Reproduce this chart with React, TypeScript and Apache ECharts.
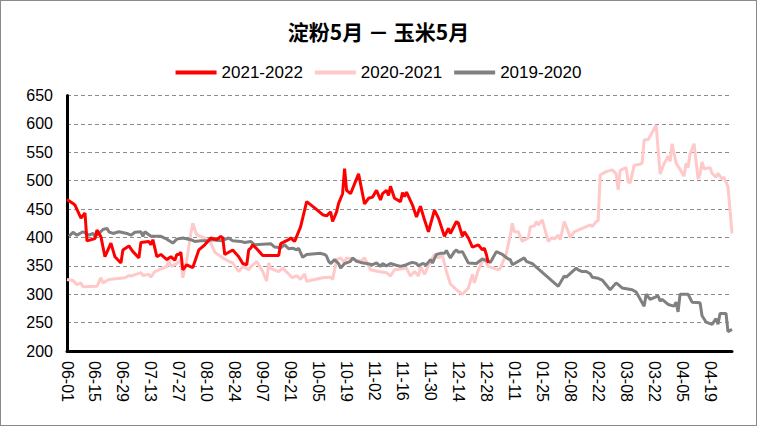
import React, { useEffect, useRef } from "react";
import * as echarts from "echarts";

const title = "淀粉5月 － 玉米5月";
const seriesNames = ["2021-2022", "2020-2021", "2019-2020"];
const yTicks = { min: 200, max: 650, interval: 50 };

const monthLengths: [string, number][] = [
  ["06", 30], ["07", 31], ["08", 31], ["09", 30], ["10", 31], ["11", 30],
  ["12", 31], ["01", 31], ["02", 28], ["03", 31], ["04", 30],
];
const categories: string[] = [];
monthLengths.forEach(([m, n]) => {
  for (let d = 1; d <= n; d++) categories.push(`${m}-${String(d).padStart(2, "0")}`);
});

const s2122: [string, number][] = [
  ["06-01", 467], ["06-04", 460], ["06-05", 457], ["06-08", 434], ["06-10", 443], ["06-11", 394],
  ["06-15", 398], ["06-16", 413], ["06-18", 401], ["06-20", 366], ["06-23", 390], ["06-25", 366],
  ["06-28", 355], ["06-29", 378], ["07-02", 385], ["07-04", 375], ["07-07", 364], ["07-08", 391],
  ["07-12", 393], ["07-13", 387], ["07-14", 396], ["07-16", 366], ["07-18", 370], ["07-21", 361],
  ["07-23", 366], ["07-25", 360], ["07-26", 370], ["07-27", 370], ["07-28", 374], ["07-29", 343],
  ["07-31", 352], ["08-01", 350], ["08-03", 347], ["08-06", 378], ["08-09", 387], ["08-12", 399],
  ["08-15", 396], ["08-17", 402], ["08-18", 399], ["08-19", 370], ["08-23", 378], ["08-26", 366],
  ["08-28", 354], ["08-30", 352], ["08-31", 378], ["09-01", 381], ["09-02", 387], ["09-04", 380],
  ["09-07", 368], ["09-15", 368], ["09-16", 389], ["09-20", 396], ["09-21", 399], ["09-23", 393],
  ["09-26", 419], ["09-29", 463], ["10-03", 452], ["10-07", 440], ["10-09", 438], ["10-11", 445],
  ["10-12", 428], ["10-14", 445], ["10-15", 460], ["10-17", 477], ["10-18", 521], ["10-19", 483],
  ["10-21", 477], ["10-25", 512], ["10-28", 459], ["10-30", 469], ["11-01", 471], ["11-03", 483],
  ["11-05", 466], ["11-06", 477], ["11-08", 483], ["11-09", 474], ["11-10", 490], ["11-12", 469],
  ["11-15", 463], ["11-16", 479], ["11-17", 472], ["11-18", 480], ["11-21", 457], ["11-23", 436],
  ["11-25", 455], ["11-27", 431], ["11-29", 410], ["12-02", 448], ["12-04", 434], ["12-07", 402],
  ["12-09", 416], ["12-10", 407], ["12-13", 428], ["12-14", 425], ["12-16", 402], ["12-17", 410],
  ["12-19", 399], ["12-21", 383], ["12-24", 387], ["12-26", 378], ["12-27", 381], ["12-28", 370],
  ["12-29", 355],
];

const s2021: [string, number][] = [
  ["06-01", 326], ["06-04", 324], ["06-06", 317], ["06-08", 320], ["06-09", 313], ["06-16", 314],
  ["06-18", 329], ["06-19", 320], ["06-22", 326], ["06-30", 329], ["07-02", 333], ["07-03", 332],
  ["07-08", 338], ["07-09", 333], ["07-12", 335], ["07-13", 330], ["07-15", 340], ["07-21", 349],
  ["07-22", 361], ["07-23", 349], ["07-26", 354], ["07-28", 361], ["07-29", 329], ["07-31", 361],
  ["08-02", 407], ["08-03", 425], ["08-05", 404], ["08-09", 399], ["08-12", 390], ["08-14", 374],
  ["08-18", 364], ["08-21", 358], ["08-23", 355], ["08-26", 340], ["08-28", 349], ["08-31", 343],
  ["09-01", 348], ["09-04", 358], ["09-07", 340], ["09-09", 323], ["09-10", 355], ["09-11", 345],
  ["09-15", 340], ["09-17", 346], ["09-21", 332], ["09-22", 329], ["09-24", 333], ["09-26", 326],
  ["09-28", 336], ["09-29", 323], ["10-07", 329], ["10-11", 330], ["10-12", 326], ["10-14", 361],
  ["10-16", 364], ["10-18", 356], ["10-19", 364], ["10-23", 361], ["10-26", 358], ["10-28", 364],
  ["10-31", 343], ["11-04", 340], ["11-08", 338], ["11-10", 332], ["11-12", 343], ["11-16", 345],
  ["11-18", 346], ["11-20", 332], ["11-22", 340], ["11-24", 332], ["11-25", 349], ["11-27", 335],
  ["11-30", 358], ["12-02", 370], ["12-04", 364], ["12-06", 368], ["12-08", 340], ["12-10", 318],
  ["12-13", 308], ["12-16", 300], ["12-19", 311], ["12-21", 335], ["12-22", 320], ["12-24", 343],
  ["12-26", 358], ["12-27", 361], ["12-29", 349], ["01-03", 343], ["01-04", 346], ["01-07", 372],
  ["01-09", 404], ["01-10", 425], ["01-11", 410], ["01-13", 410], ["01-15", 393], ["01-18", 399],
  ["01-19", 419], ["01-21", 420], ["01-22", 428], ["01-23", 422], ["01-25", 431], ["01-28", 393],
  ["01-30", 400], ["01-31", 397], ["02-02", 404], ["02-03", 396], ["02-05", 428], ["02-07", 410],
  ["02-08", 400], ["02-10", 410], ["02-18", 422], ["02-19", 419], ["02-21", 428], ["02-22", 430],
  ["02-23", 510], ["02-26", 516], ["03-01", 519], ["03-03", 512], ["03-04", 484], ["03-05", 518],
  ["03-08", 523], ["03-09", 498], ["03-10", 496], ["03-12", 527], ["03-15", 529], ["03-16", 531],
  ["03-17", 572], ["03-19", 572], ["03-23", 598], ["03-25", 512], ["03-27", 530], ["03-29", 543],
  ["03-30", 534], ["03-31", 565], ["04-02", 531], ["04-06", 508], ["04-07", 531], ["04-08", 523],
  ["04-09", 547], ["04-11", 565], ["04-13", 503], ["04-14", 511], ["04-15", 533], ["04-16", 521],
  ["04-19", 523], ["04-20", 513], ["04-22", 506], ["04-23", 513], ["04-25", 503], ["04-26", 506],
  ["04-28", 489], ["04-30", 407],
];

const s1920: [string, number][] = [
  ["06-02", 402], ["06-04", 409], ["06-06", 404], ["06-09", 410], ["06-12", 404], ["06-14", 407],
  ["06-15", 402], ["06-17", 407], ["06-19", 414], ["06-21", 416], ["06-22", 410], ["06-24", 407],
  ["06-27", 410], ["07-01", 407], ["07-03", 404], ["07-05", 409], ["07-08", 410], ["07-09", 402],
  ["07-10", 410], ["07-13", 402], ["07-18", 402], ["07-21", 397], ["07-24", 390], ["07-26", 397],
  ["07-29", 399], ["08-02", 396], ["08-04", 393], ["08-07", 394], ["08-10", 394], ["08-13", 396],
  ["08-17", 394], ["08-21", 399], ["08-23", 394], ["08-27", 393], ["08-29", 391], ["09-01", 393],
  ["09-03", 387], ["09-11", 389], ["09-13", 383], ["09-16", 382], ["09-18", 387], ["09-20", 380],
  ["09-22", 381], ["09-24", 378], ["09-25", 381], ["09-27", 365], ["09-29", 370], ["10-06", 372],
  ["10-08", 370], ["10-09", 367], ["10-10", 358], ["10-11", 354], ["10-13", 361], ["10-15", 354],
  ["10-16", 346], ["10-18", 354], ["10-21", 358], ["10-22", 364], ["10-24", 358], ["10-26", 356],
  ["10-29", 354], ["11-01", 352], ["11-03", 355], ["11-05", 349], ["11-06", 354], ["11-08", 350],
  ["11-10", 354], ["11-12", 352], ["11-15", 349], ["11-18", 352], ["11-20", 355], ["11-21", 356],
  ["11-23", 354], ["11-24", 350], ["11-26", 354], ["11-28", 352], ["11-30", 361], ["12-01", 355],
  ["12-03", 370], ["12-05", 372], ["12-07", 372], ["12-08", 377], ["12-09", 370], ["12-10", 364],
  ["12-12", 375], ["12-13", 378], ["12-14", 374], ["12-16", 375], ["12-19", 355], ["12-23", 354],
  ["12-26", 362], ["12-29", 358], ["12-30", 356], ["01-02", 375], ["01-05", 370], ["01-08", 362],
  ["01-09", 361], ["01-10", 352], ["01-16", 364], ["01-17", 358], ["01-19", 355], ["01-20", 354],
  ["02-02", 314], ["02-05", 332], ["02-06", 330], ["02-11", 346], ["02-12", 343], ["02-14", 340],
  ["02-16", 340], ["02-18", 336], ["02-19", 330], ["02-22", 328], ["02-24", 325], ["02-28", 308],
  ["03-03", 320], ["03-06", 311], ["03-11", 308], ["03-13", 304], ["03-17", 279], ["03-18", 300],
  ["03-20", 291], ["03-24", 297], ["03-25", 288], ["03-26", 291], ["03-29", 282], ["04-01", 279],
  ["04-02", 286], ["04-03", 269], ["04-04", 300], ["04-08", 300], ["04-10", 286], ["04-14", 285],
  ["04-15", 262], ["04-17", 251], ["04-20", 247], ["04-22", 257], ["04-23", 247], ["04-24", 266],
  ["04-27", 266], ["04-28", 234], ["04-30", 238],
];

const colors = ["#FF0000", "#FFC9C9", "#808080"];
const FONT = "'Liberation Sans', Arial, sans-serif";

const toIdx = (arr: [string, number][]) => arr.map(([d, v]) => [categories.indexOf(d), v]);

export default function App() {
  const ref = useRef<HTMLDivElement>(null);
  useEffect(() => {
    if (!ref.current) return;
    const chart = echarts.init(ref.current, null, { renderer: "svg" });
    const datasets = [s2122, s2021, s1920];
    const zs = [4, 2, 3];
    chart.setOption({
      animation: false,
      backgroundColor: "#fff",
      title: {
        text: title,
        left: "center",
        top: 14,
        textStyle: { fontFamily: "'Noto Sans CJK SC'", fontSize: 21, fontWeight: "bold", color: "#000" },
      },
      legend: {
        data: seriesNames.map((n) => ({ name: n, icon: "rect" })),
        top: 58,
        left: "center",
        itemWidth: 41,
        itemHeight: 4,
        itemGap: 12,
        textStyle: { fontFamily: FONT, fontSize: 17, color: "#000" },
      },
      grid: { left: 66, right: 24, top: 94.5, bottom: 74, containLabel: false },
      xAxis: {
        type: "category",
        data: categories,
        boundaryGap: false,
        axisLine: { lineStyle: { color: "#000", width: 3 } },
        axisTick: { show: false },
        axisLabel: { interval: 13, rotate: -90, margin: 10, fontFamily: FONT, fontSize: 16, color: "#000" },
        splitLine: { show: false },
      },
      yAxis: {
        type: "value",
        min: yTicks.min,
        max: yTicks.max,
        interval: yTicks.interval,
        axisLine: { show: true, lineStyle: { color: "#000", width: 3 } },
        axisTick: { show: false },
        axisLabel: { margin: 14, fontFamily: FONT, fontSize: 16, color: "#000" },
        splitLine: { lineStyle: { color: "#8c8c8c", type: [4, 3], width: 1 } },
      },
      series: seriesNames.map((name, i) => ({
        name,
        type: "line",
        data: toIdx(datasets[i]),
        showSymbol: false,
        symbol: "none",
        z: zs[i],
        color: colors[i],
        lineStyle: { color: colors[i], width: 3 },
      })),
    });
    return () => chart.dispose();
  }, []);
  return (
    <div
      style={{
        position: "fixed",
        left: 0,
        top: 0,
        width: 757,
        height: 426,
        boxSizing: "border-box",
        border: "1px solid #8a8a8a",
        background: "#fff",
      }}
    >
      <div ref={ref} style={{ width: 755, height: 424 }} />
    </div>
  );
}
